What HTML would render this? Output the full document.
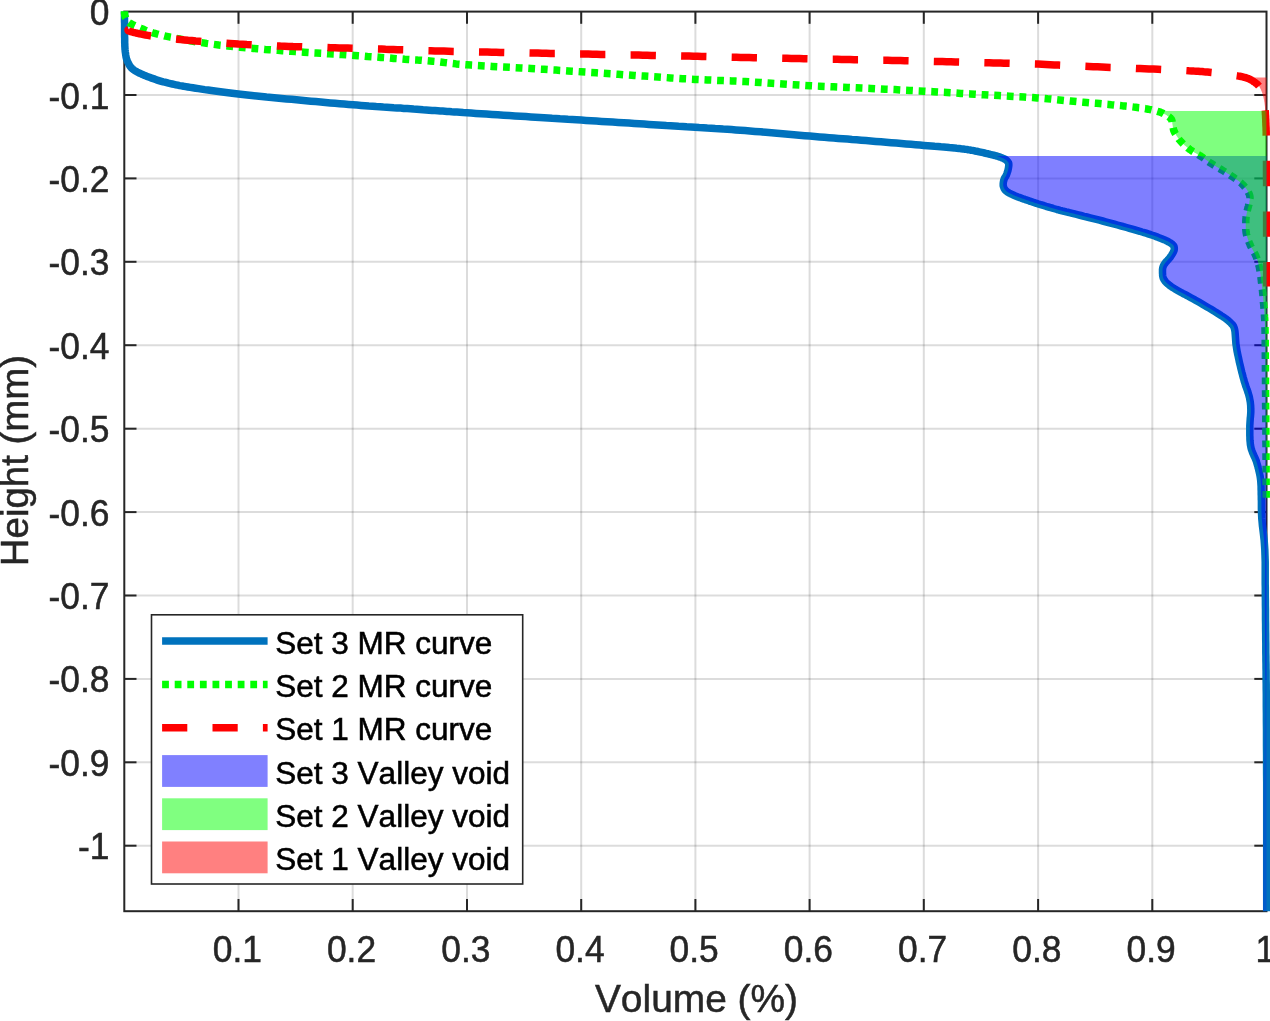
<!DOCTYPE html>
<html><head><meta charset="utf-8"><title>MR curves</title>
<style>html,body{margin:0;padding:0;background:#fff}svg{display:block}text{font-kerning:none}</style></head>
<body>
<svg width="1270" height="1021" viewBox="0 0 1270 1021">
<rect width="1270" height="1021" fill="#fff"/>
<g stroke="#262626" stroke-opacity="0.16" stroke-width="2">
<line x1="238.5" y1="11.6" x2="238.5" y2="911.2"/>
<line x1="352.7" y1="11.6" x2="352.7" y2="911.2"/>
<line x1="467.0" y1="11.6" x2="467.0" y2="911.2"/>
<line x1="581.2" y1="11.6" x2="581.2" y2="911.2"/>
<line x1="695.4" y1="11.6" x2="695.4" y2="911.2"/>
<line x1="809.6" y1="11.6" x2="809.6" y2="911.2"/>
<line x1="923.8" y1="11.6" x2="923.8" y2="911.2"/>
<line x1="1038.1" y1="11.6" x2="1038.1" y2="911.2"/>
<line x1="1152.3" y1="11.6" x2="1152.3" y2="911.2"/>
<line x1="124.3" y1="95.0" x2="1266.5" y2="95.0"/>
<line x1="124.3" y1="178.4" x2="1266.5" y2="178.4"/>
<line x1="124.3" y1="261.8" x2="1266.5" y2="261.8"/>
<line x1="124.3" y1="345.2" x2="1266.5" y2="345.2"/>
<line x1="124.3" y1="428.7" x2="1266.5" y2="428.7"/>
<line x1="124.3" y1="512.1" x2="1266.5" y2="512.1"/>
<line x1="124.3" y1="595.5" x2="1266.5" y2="595.5"/>
<line x1="124.3" y1="678.9" x2="1266.5" y2="678.9"/>
<line x1="124.3" y1="762.3" x2="1266.5" y2="762.3"/>
<line x1="124.3" y1="845.7" x2="1266.5" y2="845.7"/>
</g>
<g stroke="#262626" stroke-width="2" fill="none">
<rect x="124.3" y="11.6" width="1142.2" height="899.6"/>
<line x1="238.5" y1="11.6" x2="238.5" y2="23.799999999999997"/>
<line x1="238.5" y1="911.2" x2="238.5" y2="899.0"/>
<line x1="352.7" y1="11.6" x2="352.7" y2="23.799999999999997"/>
<line x1="352.7" y1="911.2" x2="352.7" y2="899.0"/>
<line x1="467.0" y1="11.6" x2="467.0" y2="23.799999999999997"/>
<line x1="467.0" y1="911.2" x2="467.0" y2="899.0"/>
<line x1="581.2" y1="11.6" x2="581.2" y2="23.799999999999997"/>
<line x1="581.2" y1="911.2" x2="581.2" y2="899.0"/>
<line x1="695.4" y1="11.6" x2="695.4" y2="23.799999999999997"/>
<line x1="695.4" y1="911.2" x2="695.4" y2="899.0"/>
<line x1="809.6" y1="11.6" x2="809.6" y2="23.799999999999997"/>
<line x1="809.6" y1="911.2" x2="809.6" y2="899.0"/>
<line x1="923.8" y1="11.6" x2="923.8" y2="23.799999999999997"/>
<line x1="923.8" y1="911.2" x2="923.8" y2="899.0"/>
<line x1="1038.1" y1="11.6" x2="1038.1" y2="23.799999999999997"/>
<line x1="1038.1" y1="911.2" x2="1038.1" y2="899.0"/>
<line x1="1152.3" y1="11.6" x2="1152.3" y2="23.799999999999997"/>
<line x1="1152.3" y1="911.2" x2="1152.3" y2="899.0"/>
<line x1="124.3" y1="95.0" x2="136.5" y2="95.0"/>
<line x1="1266.5" y1="95.0" x2="1254.3" y2="95.0"/>
<line x1="124.3" y1="178.4" x2="136.5" y2="178.4"/>
<line x1="1266.5" y1="178.4" x2="1254.3" y2="178.4"/>
<line x1="124.3" y1="261.8" x2="136.5" y2="261.8"/>
<line x1="1266.5" y1="261.8" x2="1254.3" y2="261.8"/>
<line x1="124.3" y1="345.2" x2="136.5" y2="345.2"/>
<line x1="1266.5" y1="345.2" x2="1254.3" y2="345.2"/>
<line x1="124.3" y1="428.7" x2="136.5" y2="428.7"/>
<line x1="1266.5" y1="428.7" x2="1254.3" y2="428.7"/>
<line x1="124.3" y1="512.1" x2="136.5" y2="512.1"/>
<line x1="1266.5" y1="512.1" x2="1254.3" y2="512.1"/>
<line x1="124.3" y1="595.5" x2="136.5" y2="595.5"/>
<line x1="1266.5" y1="595.5" x2="1254.3" y2="595.5"/>
<line x1="124.3" y1="678.9" x2="136.5" y2="678.9"/>
<line x1="1266.5" y1="678.9" x2="1254.3" y2="678.9"/>
<line x1="124.3" y1="762.3" x2="136.5" y2="762.3"/>
<line x1="1266.5" y1="762.3" x2="1254.3" y2="762.3"/>
<line x1="124.3" y1="845.7" x2="136.5" y2="845.7"/>
<line x1="1266.5" y1="845.7" x2="1254.3" y2="845.7"/>
</g>
<g fill="none" stroke-width="7.5" stroke-linejoin="round">
<path id="cb" stroke="#0072bd" d="M124.5,11.6 L124.5,12.5 L124.5,13.6 L124.5,15.0 L124.5,16.5 L124.5,18.1 L124.5,19.9 L124.5,21.6 L124.6,23.4 L124.6,25.2 L124.6,26.9 L124.6,28.5 L124.6,30.0 L124.6,31.4 L124.6,32.8 L124.6,34.1 L124.6,35.5 L124.6,36.8 L124.7,38.1 L124.7,39.3 L124.7,40.6 L124.7,41.8 L124.7,42.9 L124.8,44.0 L124.8,45.0 L124.8,46.0 L124.9,46.9 L124.9,47.7 L125.0,48.5 L125.0,49.2 L125.1,50.0 L125.2,50.6 L125.2,51.3 L125.3,52.0 L125.4,52.6 L125.5,53.3 L125.6,54.0 L125.7,54.7 L125.8,55.4 L125.9,56.0 L126.0,56.6 L126.1,57.3 L126.3,57.9 L126.4,58.5 L126.6,59.1 L126.8,59.8 L127.0,60.4 L127.3,61.0 L127.6,61.7 L127.9,62.4 L128.3,63.1 L128.6,63.7 L129.0,64.4 L129.4,65.2 L129.9,65.9 L130.3,66.6 L130.9,67.3 L131.5,68.0 L132.2,68.7 L133.0,69.3 L133.9,70.0 L134.9,70.7 L136.0,71.3 L137.2,72.0 L138.4,72.6 L139.8,73.3 L141.2,73.9 L142.6,74.6 L144.1,75.2 L145.6,75.8 L147.1,76.4 L148.7,77.0 L150.2,77.6 L151.7,78.2 L153.3,78.7 L154.9,79.2 L156.5,79.8 L158.1,80.3 L159.7,80.8 L161.4,81.3 L163.2,81.8 L164.9,82.2 L166.7,82.7 L168.5,83.2 L170.4,83.6 L172.3,84.0 L174.1,84.4 L175.9,84.8 L177.8,85.2 L179.7,85.6 L181.6,85.9 L183.6,86.3 L185.7,86.6 L187.9,87.0 L190.3,87.4 L192.9,87.8 L195.6,88.2 L198.5,88.6 L201.5,89.1 L204.7,89.6 L208.0,90.0 L211.4,90.5 L214.9,91.0 L218.6,91.5 L222.4,92.0 L226.2,92.5 L230.2,93.0 L234.2,93.5 L238.4,94.0 L242.7,94.5 L247.2,95.0 L251.9,95.5 L256.7,96.0 L261.6,96.5 L266.5,97.0 L271.6,97.4 L276.6,97.9 L281.6,98.4 L286.6,98.9 L291.6,99.3 L296.4,99.8 L301.2,100.3 L306.0,100.7 L310.9,101.2 L315.8,101.6 L320.7,102.0 L325.5,102.5 L330.3,102.9 L335.0,103.3 L339.7,103.7 L344.2,104.1 L348.6,104.5 L352.9,104.8 L357.0,105.1 L361.1,105.4 L365.0,105.7 L368.8,106.0 L372.5,106.2 L376.2,106.5 L379.8,106.7 L383.3,107.0 L386.8,107.2 L390.2,107.4 L393.7,107.7 L397.1,107.9 L400.5,108.1 L403.8,108.4 L407.2,108.6 L410.4,108.8 L413.6,109.1 L416.8,109.3 L419.9,109.5 L423.0,109.8 L426.1,110.0 L429.1,110.2 L432.1,110.4 L435.0,110.6 L437.8,110.8 L440.3,111.0 L442.7,111.1 L444.9,111.3 L447.1,111.5 L449.4,111.6 L451.7,111.8 L454.2,111.9 L456.9,112.1 L459.9,112.3 L463.2,112.6 L467.0,112.8 L471.2,113.1 L475.9,113.4 L481.0,113.7 L486.4,114.1 L492.0,114.4 L497.7,114.8 L503.6,115.2 L509.3,115.5 L515.0,115.9 L520.6,116.2 L525.9,116.6 L530.8,116.9 L535.4,117.2 L539.8,117.5 L544.0,117.7 L548.1,118.0 L552.1,118.3 L556.0,118.5 L560.0,118.8 L564.0,119.0 L568.0,119.3 L572.2,119.5 L576.6,119.8 L581.2,120.1 L586.0,120.4 L591.1,120.7 L596.4,121.1 L601.7,121.4 L607.2,121.8 L612.7,122.1 L618.2,122.4 L623.6,122.8 L629.0,123.1 L634.3,123.5 L639.3,123.8 L644.2,124.1 L648.9,124.4 L653.4,124.7 L657.8,125.0 L662.1,125.2 L666.3,125.5 L670.4,125.7 L674.5,126.0 L678.6,126.3 L682.6,126.5 L686.7,126.8 L690.8,127.0 L695.0,127.3 L699.1,127.6 L703.2,127.8 L707.2,128.1 L711.2,128.3 L715.1,128.6 L719.1,128.8 L723.2,129.1 L727.3,129.3 L731.5,129.6 L735.8,129.9 L740.3,130.2 L745.0,130.6 L749.9,131.0 L755.0,131.4 L760.4,131.8 L765.8,132.3 L771.4,132.8 L777.0,133.3 L782.7,133.8 L788.3,134.3 L793.9,134.7 L799.3,135.2 L804.7,135.7 L809.8,136.1 L814.8,136.5 L819.6,136.9 L824.4,137.3 L829.1,137.7 L833.7,138.0 L838.3,138.4 L842.9,138.8 L847.5,139.1 L852.0,139.5 L856.6,139.8 L861.3,140.2 L866.0,140.6 L870.8,141.0 L875.8,141.4 L880.9,141.8 L886.0,142.2 L891.2,142.7 L896.3,143.1 L901.3,143.5 L906.2,143.9 L911.0,144.3 L915.6,144.7 L919.9,145.1 L923.9,145.4 L927.7,145.7 L931.2,146.0 L934.6,146.3 L937.9,146.5 L940.9,146.8 L943.8,147.0 L946.6,147.2 L949.3,147.5 L951.8,147.7 L954.3,147.9 L956.6,148.2 L958.9,148.4 L961.1,148.7 L963.0,148.9 L964.9,149.2 L966.6,149.4 L968.2,149.7 L969.6,149.9 L971.1,150.2 L972.4,150.4 L973.8,150.7 L975.1,151.0 L976.4,151.2 L977.8,151.5 L979.2,151.8 L980.5,152.1 L981.9,152.4 L983.2,152.7 L984.5,153.0 L985.8,153.3 L987.0,153.6 L988.1,153.8 L989.2,154.1 L990.2,154.4 L991.2,154.6 L992.0,154.8 L992.7,155.0 L993.4,155.1 L993.9,155.3 L994.4,155.4 L994.8,155.5 L995.1,155.6 L995.4,155.6 L995.7,155.7 L996.0,155.8 L996.3,155.9 L996.6,156.0 L997.0,156.1 L997.4,156.2 L997.8,156.3 L998.2,156.5 L998.5,156.6 L998.9,156.7 L999.3,156.8 L999.6,156.9 L1000.0,157.1 L1000.4,157.2 L1000.7,157.3 L1001.1,157.5 L1001.4,157.6 L1001.7,157.7 L1002.1,157.9 L1002.4,158.0 L1002.8,158.2 L1003.1,158.3 L1003.4,158.5 L1003.7,158.6 L1004.1,158.8 L1004.4,158.9 L1004.7,159.1 L1004.9,159.2 L1005.2,159.4 L1005.5,159.6 L1005.7,159.7 L1005.9,159.9 L1006.1,160.1 L1006.4,160.2 L1006.6,160.4 L1006.8,160.6 L1006.9,160.7 L1007.1,160.9 L1007.3,161.1 L1007.4,161.3 L1007.6,161.5 L1007.7,161.7 L1007.9,161.9 L1008.0,162.1 L1008.2,162.3 L1008.3,162.4 L1008.4,162.6 L1008.5,162.8 L1008.6,163.1 L1008.7,163.3 L1008.7,163.6 L1008.8,163.9 L1008.8,164.2 L1008.8,164.6 L1008.8,165.0 L1008.8,165.4 L1008.8,165.8 L1008.7,166.3 L1008.6,166.8 L1008.6,167.3 L1008.5,167.7 L1008.4,168.2 L1008.3,168.7 L1008.2,169.2 L1008.1,169.7 L1008.0,170.2 L1007.9,170.7 L1007.7,171.2 L1007.6,171.7 L1007.4,172.2 L1007.2,172.7 L1007.1,173.2 L1006.9,173.7 L1006.7,174.1 L1006.5,174.6 L1006.4,175.0 L1006.2,175.4 L1006.0,175.8 L1005.9,176.1 L1005.7,176.4 L1005.5,176.6 L1005.4,176.9 L1005.2,177.1 L1005.0,177.4 L1004.9,177.6 L1004.7,177.9 L1004.6,178.1 L1004.4,178.4 L1004.3,178.7 L1004.2,179.0 L1004.1,179.4 L1004.0,179.7 L1003.9,180.0 L1003.8,180.4 L1003.7,180.8 L1003.6,181.1 L1003.5,181.5 L1003.4,181.9 L1003.4,182.2 L1003.3,182.6 L1003.3,182.9 L1003.3,183.2 L1003.2,183.6 L1003.2,183.9 L1003.2,184.2 L1003.2,184.5 L1003.2,184.8 L1003.2,185.1 L1003.2,185.4 L1003.2,185.7 L1003.3,186.0 L1003.4,186.4 L1003.5,186.7 L1003.6,187.0 L1003.7,187.4 L1003.9,187.7 L1004.0,188.1 L1004.2,188.5 L1004.4,188.8 L1004.6,189.2 L1004.9,189.6 L1005.1,189.9 L1005.4,190.3 L1005.8,190.6 L1006.2,191.0 L1006.6,191.4 L1007.1,191.7 L1007.6,192.1 L1008.2,192.4 L1008.8,192.8 L1009.4,193.1 L1010.1,193.4 L1010.7,193.8 L1011.4,194.1 L1012.2,194.5 L1012.9,194.8 L1013.7,195.2 L1014.5,195.6 L1015.3,195.9 L1016.2,196.3 L1017.1,196.6 L1018.0,197.0 L1019.0,197.3 L1020.0,197.7 L1021.0,198.0 L1022.0,198.4 L1023.0,198.8 L1024.0,199.1 L1025.1,199.5 L1026.2,199.9 L1027.2,200.2 L1028.3,200.6 L1029.4,201.0 L1030.4,201.4 L1031.6,201.7 L1032.7,202.1 L1033.9,202.5 L1035.1,202.9 L1036.4,203.3 L1037.8,203.8 L1039.2,204.2 L1040.7,204.7 L1042.4,205.2 L1044.2,205.7 L1046.0,206.3 L1047.9,206.8 L1049.8,207.4 L1051.7,207.9 L1053.5,208.5 L1055.3,209.0 L1057.0,209.5 L1058.6,209.9 L1060.0,210.3 L1061.2,210.6 L1062.2,210.9 L1063.0,211.1 L1063.6,211.3 L1064.2,211.4 L1064.8,211.5 L1065.4,211.7 L1066.2,211.9 L1067.1,212.1 L1068.2,212.3 L1069.6,212.7 L1071.3,213.1 L1073.4,213.6 L1075.7,214.2 L1078.3,214.8 L1081.0,215.5 L1084.0,216.3 L1087.0,217.0 L1090.1,217.8 L1093.3,218.6 L1096.5,219.4 L1099.6,220.2 L1102.7,221.0 L1105.6,221.8 L1108.5,222.6 L1111.5,223.4 L1114.5,224.2 L1117.5,225.0 L1120.6,225.8 L1123.6,226.7 L1126.6,227.5 L1129.5,228.3 L1132.3,229.1 L1135.0,229.9 L1137.5,230.6 L1139.9,231.3 L1142.1,232.0 L1144.2,232.6 L1146.2,233.2 L1148.1,233.8 L1149.9,234.4 L1151.6,235.0 L1153.2,235.5 L1154.8,236.1 L1156.2,236.6 L1157.7,237.1 L1159.1,237.7 L1160.4,238.2 L1161.7,238.7 L1162.9,239.2 L1164.1,239.7 L1165.2,240.2 L1166.2,240.7 L1167.2,241.1 L1168.1,241.6 L1169.0,242.1 L1169.8,242.5 L1170.5,243.0 L1171.2,243.4 L1171.8,243.9 L1172.3,244.3 L1172.8,244.8 L1173.2,245.2 L1173.5,245.6 L1173.8,246.0 L1174.0,246.5 L1174.1,246.9 L1174.2,247.3 L1174.3,247.7 L1174.3,248.2 L1174.3,248.7 L1174.3,249.2 L1174.2,249.7 L1174.1,250.3 L1173.9,250.9 L1173.7,251.4 L1173.4,252.0 L1173.1,252.6 L1172.7,253.3 L1172.4,253.9 L1172.0,254.5 L1171.6,255.2 L1171.1,255.8 L1170.7,256.5 L1170.2,257.2 L1169.7,257.9 L1169.1,258.6 L1168.4,259.3 L1167.8,260.1 L1167.1,260.8 L1166.4,261.5 L1165.8,262.3 L1165.2,263.0 L1164.7,263.7 L1164.2,264.4 L1163.8,265.1 L1163.5,265.8 L1163.2,266.4 L1163.0,267.0 L1162.8,267.6 L1162.7,268.2 L1162.6,268.8 L1162.5,269.4 L1162.5,270.0 L1162.5,270.6 L1162.5,271.3 L1162.5,271.9 L1162.5,272.5 L1162.5,273.1 L1162.6,273.8 L1162.6,274.4 L1162.6,275.1 L1162.7,275.8 L1162.8,276.4 L1163.0,277.1 L1163.1,277.7 L1163.4,278.4 L1163.7,279.1 L1164.1,279.7 L1164.5,280.4 L1165.0,281.0 L1165.5,281.7 L1166.1,282.3 L1166.6,282.9 L1167.3,283.5 L1168.0,284.1 L1168.8,284.7 L1169.6,285.4 L1170.6,286.1 L1171.6,286.8 L1172.8,287.6 L1174.1,288.4 L1175.5,289.3 L1177.1,290.2 L1178.9,291.2 L1180.7,292.2 L1182.7,293.3 L1184.7,294.3 L1186.7,295.4 L1188.8,296.5 L1190.9,297.7 L1192.9,298.8 L1195.0,299.9 L1196.9,301.0 L1198.8,302.1 L1200.9,303.3 L1202.9,304.5 L1205.0,305.7 L1207.1,306.9 L1209.1,308.1 L1211.1,309.3 L1213.1,310.5 L1214.9,311.6 L1216.7,312.7 L1218.3,313.8 L1219.8,314.7 L1221.1,315.6 L1222.4,316.4 L1223.5,317.1 L1224.5,317.8 L1225.5,318.5 L1226.3,319.1 L1227.1,319.7 L1227.9,320.3 L1228.6,320.9 L1229.2,321.5 L1229.9,322.1 L1230.5,322.7 L1231.1,323.3 L1231.6,323.8 L1232.0,324.3 L1232.5,324.7 L1232.8,325.1 L1233.1,325.6 L1233.4,326.0 L1233.7,326.6 L1233.9,327.1 L1234.1,327.8 L1234.4,328.5 L1234.6,329.4 L1234.8,330.4 L1235.0,331.5 L1235.1,332.7 L1235.2,333.9 L1235.3,335.3 L1235.4,336.6 L1235.5,338.0 L1235.6,339.5 L1235.7,340.9 L1235.8,342.3 L1235.9,343.7 L1236.1,345.0 L1236.3,346.3 L1236.5,347.6 L1236.7,348.8 L1236.9,350.1 L1237.1,351.3 L1237.4,352.6 L1237.6,353.9 L1237.9,355.2 L1238.2,356.5 L1238.5,357.9 L1238.8,359.3 L1239.1,360.7 L1239.4,362.2 L1239.8,363.8 L1240.2,365.4 L1240.6,367.1 L1241.0,368.8 L1241.4,370.5 L1241.8,372.2 L1242.3,373.9 L1242.7,375.5 L1243.1,377.2 L1243.6,378.8 L1244.0,380.3 L1244.4,381.8 L1244.9,383.2 L1245.4,384.7 L1245.8,386.1 L1246.3,387.4 L1246.8,388.8 L1247.3,390.1 L1247.7,391.5 L1248.1,392.7 L1248.5,394.0 L1248.9,395.3 L1249.2,396.5 L1249.5,397.7 L1249.7,398.8 L1249.9,399.9 L1250.1,400.9 L1250.3,401.9 L1250.4,403.0 L1250.5,404.0 L1250.6,405.0 L1250.7,406.1 L1250.7,407.2 L1250.8,408.4 L1250.8,409.6 L1250.8,410.9 L1250.8,412.3 L1250.7,413.7 L1250.6,415.1 L1250.5,416.6 L1250.3,418.1 L1250.2,419.6 L1250.1,421.1 L1250.0,422.6 L1249.9,424.2 L1249.8,425.7 L1249.8,427.3 L1249.8,428.9 L1249.8,430.5 L1249.8,432.1 L1249.8,433.8 L1249.8,435.5 L1249.9,437.2 L1249.9,438.9 L1250.0,440.5 L1250.2,442.2 L1250.3,443.7 L1250.5,445.3 L1250.8,446.8 L1251.1,448.2 L1251.5,449.6 L1252.0,451.0 L1252.5,452.3 L1253.0,453.6 L1253.6,454.8 L1254.1,456.1 L1254.7,457.3 L1255.3,458.6 L1255.8,459.9 L1256.3,461.2 L1256.7,462.5 L1257.1,463.8 L1257.5,465.2 L1257.9,466.5 L1258.2,467.9 L1258.6,469.2 L1258.9,470.6 L1259.2,471.9 L1259.5,473.3 L1259.8,474.7 L1260.1,476.1 L1260.3,477.5 L1260.5,479.0 L1260.7,480.5 L1260.8,481.9 L1260.9,483.4 L1261.0,484.9 L1261.1,486.5 L1261.1,488.0 L1261.1,489.6 L1261.2,491.1 L1261.2,492.7 L1261.2,494.3 L1261.3,496.0 L1261.3,497.6 L1261.3,499.2 L1261.4,500.9 L1261.4,502.5 L1261.4,504.1 L1261.4,505.8 L1261.4,507.4 L1261.4,509.2 L1261.5,510.9 L1261.5,512.8 L1261.6,514.7 L1261.7,516.7 L1261.8,518.8 L1262.0,521.0 L1262.2,523.2 L1262.4,525.5 L1262.7,527.9 L1263.0,530.3 L1263.3,532.8 L1263.6,535.3 L1263.9,538.0 L1264.2,540.7 L1264.4,543.5 L1264.6,546.4 L1264.8,549.4 L1264.9,552.5 L1265.0,555.6 L1265.1,558.8 L1265.2,562.1 L1265.2,565.5 L1265.2,569.0 L1265.2,572.5 L1265.2,576.2 L1265.2,579.9 L1265.2,583.8 L1265.3,587.7 L1265.3,591.8 L1265.3,596.0 L1265.4,600.4 L1265.4,605.0 L1265.5,609.7 L1265.5,614.5 L1265.5,619.4 L1265.6,624.3 L1265.6,629.2 L1265.7,634.1 L1265.7,638.9 L1265.8,643.6 L1265.8,648.2 L1265.8,652.5 L1265.9,656.5 L1265.9,660.3 L1266.0,664.0 L1266.0,667.7 L1266.1,671.4 L1266.1,675.2 L1266.1,679.3 L1266.2,683.8 L1266.2,688.6 L1266.3,694.0 L1266.3,700.0 L1266.3,706.6 L1266.4,713.7 L1266.4,721.3 L1266.5,729.3 L1266.5,737.7 L1266.5,746.3 L1266.6,755.1 L1266.6,764.1 L1266.6,773.1 L1266.7,782.1 L1266.7,791.1 L1266.7,800.0 L1266.7,809.2 L1266.7,819.2 L1266.7,829.6 L1266.7,840.4 L1266.7,851.2 L1266.7,861.9 L1266.7,872.2 L1266.7,882.0 L1266.7,891.0 L1266.7,899.0 L1266.7,905.8 L1266.7,911.2"/>
<path id="cg" stroke="#00ff00" stroke-dasharray="6.8 5.815" d="M124.5,11.2 L124.5,11.4 L124.5,11.7 L124.5,12.0 L124.5,12.3 L124.5,12.7 L124.5,13.1 L124.6,13.5 L124.6,13.9 L124.6,14.3 L124.7,14.8 L124.7,15.1 L124.8,15.5 L124.9,15.8 L125.0,16.2 L125.1,16.5 L125.2,16.8 L125.3,17.2 L125.4,17.5 L125.6,17.8 L125.7,18.1 L125.9,18.5 L126.1,18.8 L126.3,19.2 L126.6,19.5 L126.8,19.8 L127.0,20.2 L127.2,20.5 L127.3,20.8 L127.5,21.1 L127.7,21.4 L128.0,21.7 L128.4,22.1 L128.9,22.5 L129.5,22.9 L130.3,23.4 L131.3,23.9 L132.5,24.5 L133.8,25.2 L135.3,25.9 L137.0,26.6 L138.8,27.4 L140.6,28.2 L142.6,29.0 L144.6,29.9 L146.6,30.7 L148.7,31.4 L150.7,32.1 L152.8,32.8 L154.9,33.4 L157.0,34.0 L159.1,34.6 L161.3,35.1 L163.5,35.6 L165.8,36.2 L168.1,36.7 L170.5,37.2 L172.9,37.6 L175.4,38.1 L177.9,38.6 L180.5,39.1 L183.2,39.6 L185.9,40.1 L188.7,40.6 L191.6,41.1 L194.5,41.5 L197.5,42.0 L200.5,42.5 L203.5,42.9 L206.5,43.4 L209.6,43.8 L212.7,44.2 L215.7,44.6 L218.7,45.0 L221.7,45.3 L224.7,45.7 L227.6,46.0 L230.6,46.3 L233.6,46.6 L236.7,46.9 L239.9,47.2 L243.1,47.5 L246.4,47.8 L249.9,48.1 L253.5,48.4 L257.3,48.7 L261.2,49.0 L265.2,49.4 L269.4,49.7 L273.6,50.0 L277.9,50.3 L282.3,50.7 L286.6,51.0 L291.0,51.3 L295.4,51.6 L299.7,51.9 L303.9,52.2 L308.1,52.5 L312.3,52.8 L316.5,53.0 L320.7,53.3 L324.9,53.5 L329.1,53.8 L333.3,54.1 L337.5,54.3 L341.7,54.6 L345.9,54.8 L350.1,55.1 L354.3,55.4 L358.6,55.7 L363.0,56.0 L367.4,56.4 L371.9,56.7 L376.4,57.0 L380.9,57.4 L385.3,57.7 L389.6,58.0 L393.7,58.4 L397.6,58.7 L401.3,58.9 L404.7,59.2 L407.8,59.4 L410.6,59.6 L413.1,59.8 L415.4,59.9 L417.5,60.1 L419.5,60.2 L421.5,60.3 L423.5,60.5 L425.5,60.6 L427.6,60.8 L429.9,61.0 L432.4,61.2 L434.9,61.4 L437.4,61.7 L439.9,62.0 L442.3,62.3 L444.8,62.6 L447.4,62.9 L450.2,63.2 L453.0,63.5 L456.1,63.9 L459.5,64.2 L463.1,64.5 L467.0,64.8 L471.3,65.1 L476.1,65.4 L481.2,65.7 L486.6,66.0 L492.2,66.4 L497.9,66.7 L503.7,67.0 L509.4,67.3 L515.1,67.6 L520.6,67.9 L525.9,68.2 L530.8,68.5 L535.4,68.8 L539.8,69.1 L544.0,69.3 L548.1,69.6 L552.1,69.9 L556.0,70.1 L560.0,70.4 L564.0,70.6 L568.0,70.9 L572.2,71.2 L576.6,71.5 L581.2,71.8 L586.0,72.1 L591.1,72.5 L596.4,72.8 L601.7,73.2 L607.2,73.6 L612.7,73.9 L618.2,74.3 L623.6,74.7 L629.0,75.1 L634.3,75.4 L639.3,75.8 L644.2,76.1 L648.9,76.4 L653.4,76.7 L657.8,77.0 L662.1,77.3 L666.3,77.6 L670.4,77.9 L674.5,78.2 L678.6,78.4 L682.6,78.7 L686.7,78.9 L690.8,79.2 L695.0,79.4 L699.1,79.6 L703.2,79.8 L707.2,80.0 L711.2,80.1 L715.1,80.3 L719.1,80.5 L723.2,80.6 L727.3,80.8 L731.5,80.9 L735.8,81.1 L740.3,81.4 L745.0,81.6 L749.9,81.9 L755.0,82.2 L760.4,82.5 L765.8,82.9 L771.4,83.3 L777.0,83.6 L782.7,84.0 L788.3,84.4 L793.9,84.7 L799.3,85.1 L804.7,85.4 L809.8,85.7 L814.8,86.0 L819.6,86.2 L824.4,86.4 L829.1,86.6 L833.7,86.8 L838.3,87.0 L842.9,87.2 L847.5,87.4 L852.0,87.6 L856.6,87.8 L861.3,88.0 L866.0,88.2 L870.8,88.4 L875.6,88.7 L880.4,88.9 L885.3,89.2 L890.1,89.4 L895.0,89.6 L899.9,89.9 L904.7,90.2 L909.6,90.4 L914.4,90.7 L919.2,90.9 L923.9,91.2 L928.6,91.5 L933.3,91.7 L937.9,92.0 L942.5,92.3 L947.1,92.5 L951.7,92.8 L956.2,93.1 L960.8,93.4 L965.4,93.7 L970.1,93.9 L974.7,94.2 L979.4,94.5 L984.2,94.8 L989.1,95.1 L994.1,95.3 L999.2,95.6 L1004.3,95.9 L1009.4,96.2 L1014.4,96.5 L1019.3,96.8 L1024.0,97.0 L1028.6,97.3 L1032.9,97.6 L1037.0,97.9 L1040.8,98.2 L1044.3,98.5 L1047.6,98.8 L1050.7,99.0 L1053.6,99.3 L1056.5,99.6 L1059.3,99.9 L1062.0,100.2 L1064.8,100.5 L1067.6,100.7 L1070.5,101.0 L1073.5,101.3 L1076.6,101.6 L1079.9,101.9 L1083.2,102.2 L1086.5,102.5 L1089.8,102.8 L1093.2,103.1 L1096.4,103.3 L1099.6,103.6 L1102.8,103.9 L1105.8,104.2 L1108.6,104.4 L1111.3,104.7 L1113.8,104.9 L1116.3,105.2 L1118.6,105.4 L1120.9,105.6 L1123.0,105.9 L1125.1,106.1 L1127.1,106.3 L1129.0,106.5 L1130.8,106.7 L1132.5,106.9 L1134.2,107.1 L1135.8,107.3 L1137.3,107.5 L1138.7,107.7 L1139.9,107.8 L1141.1,108.0 L1142.1,108.2 L1143.2,108.3 L1144.1,108.5 L1145.1,108.6 L1146.0,108.8 L1147.0,109.0 L1148.0,109.2 L1149.0,109.4 L1150.1,109.6 L1151.1,109.8 L1152.2,110.1 L1153.3,110.3 L1154.3,110.5 L1155.4,110.8 L1156.4,111.0 L1157.4,111.3 L1158.4,111.6 L1159.4,111.9 L1160.4,112.2 L1161.3,112.6 L1162.2,113.0 L1163.1,113.4 L1164.0,113.9 L1165.0,114.3 L1165.8,114.8 L1166.7,115.3 L1167.5,115.9 L1168.3,116.4 L1169.0,116.9 L1169.7,117.5 L1170.3,118.0 L1170.8,118.6 L1171.2,119.2 L1171.6,119.7 L1171.8,120.3 L1172.0,120.9 L1172.1,121.5 L1172.2,122.2 L1172.3,122.8 L1172.3,123.4 L1172.4,124.0 L1172.5,124.6 L1172.6,125.2 L1172.7,125.8 L1172.8,126.4 L1173.0,126.9 L1173.1,127.4 L1173.2,127.9 L1173.3,128.4 L1173.4,129.0 L1173.5,129.5 L1173.6,130.0 L1173.8,130.6 L1174.0,131.1 L1174.3,131.8 L1174.6,132.4 L1175.0,133.1 L1175.4,133.8 L1175.9,134.6 L1176.3,135.4 L1176.9,136.2 L1177.4,137.1 L1178.0,137.9 L1178.6,138.7 L1179.2,139.6 L1179.9,140.4 L1180.5,141.1 L1181.2,141.9 L1181.9,142.6 L1182.6,143.3 L1183.3,144.0 L1184.1,144.7 L1184.8,145.4 L1185.6,146.1 L1186.4,146.8 L1187.2,147.4 L1188.0,148.1 L1188.9,148.7 L1189.7,149.4 L1190.6,150.0 L1191.5,150.6 L1192.4,151.2 L1193.4,151.8 L1194.3,152.4 L1195.3,153.0 L1196.3,153.6 L1197.3,154.2 L1198.3,154.7 L1199.2,155.3 L1200.2,155.9 L1201.1,156.4 L1202.0,157.0 L1202.8,157.6 L1203.6,158.1 L1204.3,158.6 L1205.0,159.1 L1205.6,159.6 L1206.3,160.1 L1207.0,160.6 L1207.7,161.1 L1208.5,161.7 L1209.4,162.3 L1210.3,162.9 L1211.4,163.6 L1212.6,164.3 L1213.9,165.2 L1215.3,166.0 L1216.8,166.9 L1218.3,167.8 L1219.9,168.7 L1221.5,169.7 L1223.0,170.6 L1224.6,171.6 L1226.1,172.5 L1227.5,173.4 L1228.9,174.3 L1230.2,175.2 L1231.5,176.0 L1232.8,176.9 L1234.0,177.7 L1235.2,178.6 L1236.4,179.4 L1237.6,180.3 L1238.7,181.1 L1239.7,182.0 L1240.8,182.8 L1241.7,183.7 L1242.6,184.5 L1243.4,185.3 L1244.2,186.2 L1244.9,187.1 L1245.6,187.9 L1246.3,188.8 L1246.9,189.7 L1247.4,190.5 L1247.9,191.4 L1248.3,192.2 L1248.7,193.0 L1249.1,193.8 L1249.4,194.5 L1249.6,195.2 L1249.8,195.9 L1249.9,196.5 L1250.0,197.1 L1250.0,197.6 L1250.0,198.2 L1249.9,198.7 L1249.9,199.3 L1249.7,199.9 L1249.6,200.6 L1249.5,201.3 L1249.4,202.0 L1249.3,202.8 L1249.1,203.7 L1248.9,204.6 L1248.6,205.5 L1248.4,206.5 L1248.1,207.5 L1247.8,208.4 L1247.6,209.4 L1247.3,210.4 L1247.1,211.3 L1246.9,212.2 L1246.7,213.1 L1246.6,213.9 L1246.4,214.7 L1246.3,215.5 L1246.2,216.2 L1246.1,216.9 L1246.1,217.6 L1246.0,218.3 L1245.9,219.1 L1245.9,219.8 L1245.8,220.6 L1245.8,221.4 L1245.8,222.2 L1245.8,223.1 L1245.8,224.0 L1245.7,224.9 L1245.7,225.8 L1245.7,226.8 L1245.7,227.7 L1245.8,228.7 L1245.8,229.7 L1245.9,230.7 L1246.0,231.6 L1246.1,232.6 L1246.3,233.6 L1246.5,234.6 L1246.8,235.6 L1247.0,236.6 L1247.3,237.6 L1247.7,238.6 L1248.0,239.6 L1248.4,240.6 L1248.8,241.6 L1249.2,242.6 L1249.6,243.6 L1250.0,244.5 L1250.4,245.5 L1250.8,246.4 L1251.3,247.4 L1251.8,248.3 L1252.3,249.2 L1252.8,250.1 L1253.3,251.0 L1253.8,251.9 L1254.3,252.8 L1254.8,253.7 L1255.3,254.6 L1255.7,255.6 L1256.1,256.5 L1256.5,257.4 L1256.8,258.3 L1257.1,259.3 L1257.5,260.2 L1257.7,261.1 L1258.0,262.0 L1258.3,262.9 L1258.5,263.9 L1258.8,264.9 L1259.0,265.9 L1259.3,266.9 L1259.5,268.0 L1259.7,269.1 L1259.9,270.3 L1260.1,271.5 L1260.3,272.7 L1260.5,273.9 L1260.7,275.2 L1260.8,276.4 L1261.0,277.7 L1261.1,279.0 L1261.3,280.3 L1261.4,281.7 L1261.6,283.0 L1261.8,284.3 L1261.9,285.6 L1262.1,286.8 L1262.2,288.1 L1262.3,289.3 L1262.5,290.6 L1262.6,291.9 L1262.7,293.3 L1262.9,294.8 L1263.0,296.4 L1263.2,298.1 L1263.3,300.0 L1263.4,301.9 L1263.6,303.7 L1263.8,305.5 L1263.9,307.4 L1264.1,309.3 L1264.2,311.4 L1264.4,313.7 L1264.5,316.2 L1264.7,318.9 L1264.8,322.1 L1264.9,325.6 L1265.0,329.5 L1265.1,334.0 L1265.2,339.1 L1265.2,344.7 L1265.3,350.7 L1265.3,357.0 L1265.4,363.5 L1265.4,370.0 L1265.5,376.5 L1265.5,382.9 L1265.5,389.0 L1265.6,394.7 L1265.6,400.0 L1265.6,404.9 L1265.7,409.5 L1265.7,414.0 L1265.8,418.2 L1265.8,422.3 L1265.8,426.4 L1265.9,430.3 L1265.9,434.2 L1265.9,438.1 L1265.9,442.0 L1266.0,445.9 L1266.0,450.0 L1266.0,454.3 L1266.0,458.8 L1266.1,463.4 L1266.1,468.2 L1266.1,472.9 L1266.1,477.5 L1266.1,482.0 L1266.2,486.2 L1266.2,490.1 L1266.2,493.5 L1266.2,496.4 L1266.2,498.8"/>
<path id="cr" stroke="#ff0000" stroke-dasharray="25.3 25.25" d="M128.8,29.2 L128.8,29.3 L128.7,29.4 L128.5,29.5 L128.3,29.7 L128.2,29.8 L128.0,30.0 L128.0,30.1 L128.0,30.3 L128.2,30.6 L128.5,30.8 L129.0,31.0 L129.8,31.3 L130.8,31.6 L131.9,31.9 L133.1,32.3 L134.5,32.6 L136.0,33.0 L137.7,33.4 L139.5,33.8 L141.4,34.2 L143.4,34.6 L145.6,35.0 L147.8,35.4 L150.2,35.8 L152.7,36.2 L155.3,36.6 L158.1,36.9 L161.0,37.3 L164.1,37.7 L167.2,38.1 L170.5,38.5 L173.8,38.9 L177.3,39.2 L180.8,39.6 L184.4,39.9 L188.0,40.3 L191.8,40.6 L195.7,41.0 L199.7,41.3 L203.9,41.7 L208.1,42.0 L212.4,42.3 L216.8,42.7 L221.1,43.0 L225.5,43.3 L229.9,43.6 L234.2,43.8 L238.4,44.1 L242.6,44.3 L246.8,44.6 L251.0,44.8 L255.2,45.0 L259.4,45.2 L263.6,45.4 L267.8,45.6 L272.0,45.7 L276.2,45.9 L280.4,46.1 L284.6,46.2 L288.8,46.4 L293.0,46.6 L297.2,46.7 L301.4,46.8 L305.6,47.0 L309.8,47.1 L314.0,47.2 L318.2,47.3 L322.4,47.4 L326.6,47.5 L330.8,47.7 L335.0,47.8 L339.2,47.9 L343.4,48.0 L347.7,48.1 L351.9,48.3 L356.2,48.4 L360.5,48.5 L364.7,48.6 L369.0,48.8 L373.2,48.9 L377.4,49.0 L381.5,49.1 L385.6,49.3 L389.6,49.4 L393.5,49.5 L397.3,49.7 L401.0,49.8 L404.7,49.9 L408.3,50.0 L411.9,50.2 L415.5,50.3 L419.2,50.4 L423.0,50.5 L426.8,50.7 L430.8,50.8 L435.0,50.9 L439.3,51.0 L443.9,51.1 L448.5,51.2 L453.3,51.4 L458.1,51.5 L463.0,51.6 L467.9,51.7 L472.8,51.8 L477.7,51.9 L482.5,52.0 L487.2,52.1 L491.7,52.2 L496.1,52.3 L500.5,52.4 L504.7,52.5 L509.0,52.6 L513.1,52.6 L517.3,52.7 L521.4,52.8 L525.5,52.9 L529.6,53.0 L533.8,53.0 L537.9,53.1 L542.1,53.2 L546.3,53.3 L550.5,53.4 L554.7,53.5 L558.9,53.5 L563.1,53.6 L567.3,53.7 L571.5,53.8 L575.7,53.9 L579.9,54.0 L584.1,54.0 L588.3,54.1 L592.5,54.2 L596.7,54.3 L600.9,54.4 L605.1,54.5 L609.3,54.5 L613.5,54.6 L617.7,54.7 L621.9,54.8 L626.1,54.9 L630.3,55.0 L634.5,55.0 L638.7,55.1 L642.9,55.2 L647.1,55.3 L651.3,55.4 L655.5,55.4 L659.7,55.5 L663.8,55.6 L668.0,55.7 L672.2,55.8 L676.4,55.8 L680.6,55.9 L684.8,56.0 L689.1,56.1 L693.3,56.2 L697.6,56.3 L701.9,56.4 L706.2,56.5 L710.5,56.6 L714.8,56.7 L719.1,56.9 L723.5,57.0 L727.8,57.1 L732.1,57.2 L736.4,57.3 L740.7,57.4 L745.0,57.5 L749.2,57.6 L753.5,57.7 L757.7,57.8 L761.9,57.9 L766.1,57.9 L770.3,58.0 L774.5,58.1 L778.6,58.2 L782.8,58.3 L787.0,58.3 L791.2,58.4 L795.4,58.5 L799.6,58.6 L803.8,58.7 L808.0,58.8 L812.2,58.8 L816.4,58.9 L820.6,59.0 L824.8,59.1 L829.0,59.2 L833.2,59.2 L837.4,59.3 L841.6,59.4 L845.8,59.5 L850.0,59.6 L854.2,59.7 L858.4,59.7 L862.6,59.8 L866.8,59.9 L871.0,60.0 L875.2,60.1 L879.4,60.2 L883.6,60.2 L887.8,60.3 L892.0,60.4 L896.2,60.5 L900.4,60.6 L904.6,60.7 L908.8,60.8 L913.0,60.9 L917.2,61.0 L921.4,61.1 L925.6,61.2 L929.8,61.3 L934.0,61.4 L938.2,61.5 L942.4,61.6 L946.6,61.7 L950.8,61.8 L955.2,61.9 L959.5,62.0 L963.9,62.1 L968.3,62.2 L972.6,62.4 L976.9,62.5 L981.2,62.6 L985.3,62.7 L989.4,62.8 L993.3,62.9 L997.0,63.0 L1000.5,63.1 L1003.8,63.2 L1006.9,63.2 L1009.9,63.3 L1012.8,63.4 L1015.6,63.4 L1018.4,63.5 L1021.3,63.6 L1024.3,63.7 L1027.4,63.8 L1030.7,63.9 L1034.2,64.0 L1037.9,64.1 L1041.9,64.3 L1045.9,64.5 L1050.1,64.7 L1054.3,64.9 L1058.6,65.1 L1063.0,65.3 L1067.4,65.5 L1071.8,65.7 L1076.2,65.9 L1080.5,66.1 L1084.8,66.3 L1089.0,66.5 L1093.3,66.7 L1097.5,66.8 L1101.8,67.0 L1106.1,67.2 L1110.3,67.4 L1114.6,67.5 L1118.9,67.7 L1123.1,67.9 L1127.3,68.0 L1131.6,68.2 L1135.8,68.4 L1140.1,68.6 L1144.5,68.8 L1149.0,69.0 L1153.5,69.1 L1158.0,69.3 L1162.4,69.5 L1166.8,69.7 L1171.1,69.9 L1175.1,70.1 L1179.0,70.2 L1182.6,70.4 L1185.9,70.6 L1188.9,70.8 L1191.6,70.9 L1194.0,71.1 L1196.3,71.2 L1198.3,71.3 L1200.2,71.5 L1202.1,71.6 L1203.9,71.8 L1205.7,71.9 L1207.5,72.1 L1209.4,72.3 L1211.4,72.5 L1213.5,72.7 L1215.7,73.0 L1217.9,73.2 L1220.2,73.5 L1222.4,73.8 L1224.6,74.1 L1226.7,74.4 L1228.8,74.6 L1230.8,74.9 L1232.7,75.2 L1234.4,75.5 L1236.0,75.7 L1237.4,75.9 L1238.7,76.1 L1239.8,76.3 L1240.9,76.5 L1241.8,76.7 L1242.7,76.9 L1243.5,77.1 L1244.3,77.3 L1245.0,77.5 L1245.8,77.7 L1246.5,77.9 L1247.3,78.2 L1248.1,78.5 L1248.8,78.8 L1249.5,79.1 L1250.2,79.5 L1250.9,79.8 L1251.5,80.2 L1252.1,80.5 L1252.7,80.9 L1253.3,81.3 L1253.8,81.7 L1254.4,82.0 L1254.9,82.4 L1255.4,82.8 L1255.9,83.1 L1256.3,83.5 L1256.7,83.8 L1257.1,84.1 L1257.5,84.5 L1257.9,84.9 L1258.2,85.3 L1258.6,85.7 L1258.9,86.1 L1259.3,86.6 L1259.6,87.1 L1259.9,87.7 L1260.2,88.3 L1260.6,88.9 L1260.9,89.5 L1261.2,90.2 L1261.4,90.9 L1261.7,91.6 L1262.0,92.3 L1262.2,93.1 L1262.5,93.8 L1262.7,94.6 L1262.9,95.3 L1263.1,96.0 L1263.3,96.8 L1263.5,97.5 L1263.6,98.3 L1263.8,99.1 L1264.0,99.9 L1264.1,100.7 L1264.2,101.5 L1264.4,102.3 L1264.5,103.1 L1264.6,103.9 L1264.7,104.7 L1264.8,105.5 L1264.9,106.3 L1265.0,107.0 L1265.0,107.8 L1265.1,108.5 L1265.2,109.3 L1265.2,110.1 L1265.3,110.9 L1265.3,111.8 L1265.4,112.8 L1265.4,113.9 L1265.5,115.0 L1265.6,116.2 L1265.6,117.5 L1265.7,118.8 L1265.8,120.2 L1265.8,121.7 L1265.9,123.2 L1265.9,124.7 L1266.0,126.4 L1266.1,128.0 L1266.1,129.8 L1266.2,131.6 L1266.2,133.4 L1266.2,135.2 L1266.3,137.0 L1266.3,138.7 L1266.3,140.4 L1266.4,142.2 L1266.4,144.1 L1266.4,146.1 L1266.4,148.4 L1266.4,150.8 L1266.5,153.5 L1266.5,156.6 L1266.5,160.0 L1266.5,163.8 L1266.5,168.0 L1266.5,172.5 L1266.5,177.3 L1266.6,182.3 L1266.6,187.5 L1266.6,192.8 L1266.6,198.3 L1266.6,203.8 L1266.6,209.2 L1266.6,214.7 L1266.6,220.0 L1266.6,225.5 L1266.6,231.5 L1266.6,237.7 L1266.6,244.1 L1266.6,250.6 L1266.7,257.0 L1266.7,263.2 L1266.7,269.0 L1266.7,274.4 L1266.7,279.2 L1266.7,283.3 L1266.7,286.5"/>
</g>
<path d="M997.0,156.0 L997.0,156.1 L997.4,156.2 L997.8,156.3 L998.2,156.5 L998.5,156.6 L998.9,156.7 L999.3,156.8 L999.6,156.9 L1000.0,157.1 L1000.4,157.2 L1000.7,157.3 L1001.1,157.5 L1001.4,157.6 L1001.7,157.7 L1002.1,157.9 L1002.4,158.0 L1002.8,158.2 L1003.1,158.3 L1003.4,158.5 L1003.7,158.6 L1004.1,158.8 L1004.4,158.9 L1004.7,159.1 L1004.9,159.2 L1005.2,159.4 L1005.5,159.6 L1005.7,159.7 L1005.9,159.9 L1006.1,160.1 L1006.4,160.2 L1006.6,160.4 L1006.8,160.6 L1006.9,160.7 L1007.1,160.9 L1007.3,161.1 L1007.4,161.3 L1007.6,161.5 L1007.7,161.7 L1007.9,161.9 L1008.0,162.1 L1008.2,162.3 L1008.3,162.4 L1008.4,162.6 L1008.5,162.8 L1008.6,163.1 L1008.7,163.3 L1008.7,163.6 L1008.8,163.9 L1008.8,164.2 L1008.8,164.6 L1008.8,165.0 L1008.8,165.4 L1008.8,165.8 L1008.7,166.3 L1008.6,166.8 L1008.6,167.3 L1008.5,167.7 L1008.4,168.2 L1008.3,168.7 L1008.2,169.2 L1008.1,169.7 L1008.0,170.2 L1007.9,170.7 L1007.7,171.2 L1007.6,171.7 L1007.4,172.2 L1007.2,172.7 L1007.1,173.2 L1006.9,173.7 L1006.7,174.1 L1006.5,174.6 L1006.4,175.0 L1006.2,175.4 L1006.0,175.8 L1005.9,176.1 L1005.7,176.4 L1005.5,176.6 L1005.4,176.9 L1005.2,177.1 L1005.0,177.4 L1004.9,177.6 L1004.7,177.9 L1004.6,178.1 L1004.4,178.4 L1004.3,178.7 L1004.2,179.0 L1004.1,179.4 L1004.0,179.7 L1003.9,180.0 L1003.8,180.4 L1003.7,180.8 L1003.6,181.1 L1003.5,181.5 L1003.4,181.9 L1003.4,182.2 L1003.3,182.6 L1003.3,182.9 L1003.3,183.2 L1003.2,183.6 L1003.2,183.9 L1003.2,184.2 L1003.2,184.5 L1003.2,184.8 L1003.2,185.1 L1003.2,185.4 L1003.2,185.7 L1003.3,186.0 L1003.4,186.4 L1003.5,186.7 L1003.6,187.0 L1003.7,187.4 L1003.9,187.7 L1004.0,188.1 L1004.2,188.5 L1004.4,188.8 L1004.6,189.2 L1004.9,189.6 L1005.1,189.9 L1005.4,190.3 L1005.8,190.6 L1006.2,191.0 L1006.6,191.4 L1007.1,191.7 L1007.6,192.1 L1008.2,192.4 L1008.8,192.8 L1009.4,193.1 L1010.1,193.4 L1010.7,193.8 L1011.4,194.1 L1012.2,194.5 L1012.9,194.8 L1013.7,195.2 L1014.5,195.6 L1015.3,195.9 L1016.2,196.3 L1017.1,196.6 L1018.0,197.0 L1019.0,197.3 L1020.0,197.7 L1021.0,198.0 L1022.0,198.4 L1023.0,198.8 L1024.0,199.1 L1025.1,199.5 L1026.2,199.9 L1027.2,200.2 L1028.3,200.6 L1029.4,201.0 L1030.4,201.4 L1031.6,201.7 L1032.7,202.1 L1033.9,202.5 L1035.1,202.9 L1036.4,203.3 L1037.8,203.8 L1039.2,204.2 L1040.7,204.7 L1042.4,205.2 L1044.2,205.7 L1046.0,206.3 L1047.9,206.8 L1049.8,207.4 L1051.7,207.9 L1053.5,208.5 L1055.3,209.0 L1057.0,209.5 L1058.6,209.9 L1060.0,210.3 L1061.2,210.6 L1062.2,210.9 L1063.0,211.1 L1063.6,211.3 L1064.2,211.4 L1064.8,211.5 L1065.4,211.7 L1066.2,211.9 L1067.1,212.1 L1068.2,212.3 L1069.6,212.7 L1071.3,213.1 L1073.4,213.6 L1075.7,214.2 L1078.3,214.8 L1081.0,215.5 L1084.0,216.3 L1087.0,217.0 L1090.1,217.8 L1093.3,218.6 L1096.5,219.4 L1099.6,220.2 L1102.7,221.0 L1105.6,221.8 L1108.5,222.6 L1111.5,223.4 L1114.5,224.2 L1117.5,225.0 L1120.6,225.8 L1123.6,226.7 L1126.6,227.5 L1129.5,228.3 L1132.3,229.1 L1135.0,229.9 L1137.5,230.6 L1139.9,231.3 L1142.1,232.0 L1144.2,232.6 L1146.2,233.2 L1148.1,233.8 L1149.9,234.4 L1151.6,235.0 L1153.2,235.5 L1154.8,236.1 L1156.2,236.6 L1157.7,237.1 L1159.1,237.7 L1160.4,238.2 L1161.7,238.7 L1162.9,239.2 L1164.1,239.7 L1165.2,240.2 L1166.2,240.7 L1167.2,241.1 L1168.1,241.6 L1169.0,242.1 L1169.8,242.5 L1170.5,243.0 L1171.2,243.4 L1171.8,243.9 L1172.3,244.3 L1172.8,244.8 L1173.2,245.2 L1173.5,245.6 L1173.8,246.0 L1174.0,246.5 L1174.1,246.9 L1174.2,247.3 L1174.3,247.7 L1174.3,248.2 L1174.3,248.7 L1174.3,249.2 L1174.2,249.7 L1174.1,250.3 L1173.9,250.9 L1173.7,251.4 L1173.4,252.0 L1173.1,252.6 L1172.7,253.3 L1172.4,253.9 L1172.0,254.5 L1171.6,255.2 L1171.1,255.8 L1170.7,256.5 L1170.2,257.2 L1169.7,257.9 L1169.1,258.6 L1168.4,259.3 L1167.8,260.1 L1167.1,260.8 L1166.4,261.5 L1165.8,262.3 L1165.2,263.0 L1164.7,263.7 L1164.2,264.4 L1163.8,265.1 L1163.5,265.8 L1163.2,266.4 L1163.0,267.0 L1162.8,267.6 L1162.7,268.2 L1162.6,268.8 L1162.5,269.4 L1162.5,270.0 L1162.5,270.6 L1162.5,271.3 L1162.5,271.9 L1162.5,272.5 L1162.5,273.1 L1162.6,273.8 L1162.6,274.4 L1162.6,275.1 L1162.7,275.8 L1162.8,276.4 L1163.0,277.1 L1163.1,277.7 L1163.4,278.4 L1163.7,279.1 L1164.1,279.7 L1164.5,280.4 L1165.0,281.0 L1165.5,281.7 L1166.1,282.3 L1166.6,282.9 L1167.3,283.5 L1168.0,284.1 L1168.8,284.7 L1169.6,285.4 L1170.6,286.1 L1171.6,286.8 L1172.8,287.6 L1174.1,288.4 L1175.5,289.3 L1177.1,290.2 L1178.9,291.2 L1180.7,292.2 L1182.7,293.3 L1184.7,294.3 L1186.7,295.4 L1188.8,296.5 L1190.9,297.7 L1192.9,298.8 L1195.0,299.9 L1196.9,301.0 L1198.8,302.1 L1200.9,303.3 L1202.9,304.5 L1205.0,305.7 L1207.1,306.9 L1209.1,308.1 L1211.1,309.3 L1213.1,310.5 L1214.9,311.6 L1216.7,312.7 L1218.3,313.8 L1219.8,314.7 L1221.1,315.6 L1222.4,316.4 L1223.5,317.1 L1224.5,317.8 L1225.5,318.5 L1226.3,319.1 L1227.1,319.7 L1227.9,320.3 L1228.6,320.9 L1229.2,321.5 L1229.9,322.1 L1230.5,322.7 L1231.1,323.3 L1231.6,323.8 L1232.0,324.3 L1232.5,324.7 L1232.8,325.1 L1233.1,325.6 L1233.4,326.0 L1233.7,326.6 L1233.9,327.1 L1234.1,327.8 L1234.4,328.5 L1234.6,329.4 L1234.8,330.4 L1235.0,331.5 L1235.1,332.7 L1235.2,333.9 L1235.3,335.3 L1235.4,336.6 L1235.5,338.0 L1235.6,339.5 L1235.7,340.9 L1235.8,342.3 L1235.9,343.7 L1236.1,345.0 L1236.3,346.3 L1236.5,347.6 L1236.7,348.8 L1236.9,350.1 L1237.1,351.3 L1237.4,352.6 L1237.6,353.9 L1237.9,355.2 L1238.2,356.5 L1238.5,357.9 L1238.8,359.3 L1239.1,360.7 L1239.4,362.2 L1239.8,363.8 L1240.2,365.4 L1240.6,367.1 L1241.0,368.8 L1241.4,370.5 L1241.8,372.2 L1242.3,373.9 L1242.7,375.5 L1243.1,377.2 L1243.6,378.8 L1244.0,380.3 L1244.4,381.8 L1244.9,383.2 L1245.4,384.7 L1245.8,386.1 L1246.3,387.4 L1246.8,388.8 L1247.3,390.1 L1247.7,391.5 L1248.1,392.7 L1248.5,394.0 L1248.9,395.3 L1249.2,396.5 L1249.5,397.7 L1249.7,398.8 L1249.9,399.9 L1250.1,400.9 L1250.3,401.9 L1250.4,403.0 L1250.5,404.0 L1250.6,405.0 L1250.7,406.1 L1250.7,407.2 L1250.8,408.4 L1250.8,409.6 L1250.8,410.9 L1250.8,412.3 L1250.7,413.7 L1250.6,415.1 L1250.5,416.6 L1250.3,418.1 L1250.2,419.6 L1250.1,421.1 L1250.0,422.6 L1249.9,424.2 L1249.8,425.7 L1249.8,427.3 L1249.8,428.9 L1249.8,430.5 L1249.8,432.1 L1249.8,433.8 L1249.8,435.5 L1249.9,437.2 L1249.9,438.9 L1250.0,440.5 L1250.2,442.2 L1250.3,443.7 L1250.5,445.3 L1250.8,446.8 L1251.1,448.2 L1251.5,449.6 L1252.0,451.0 L1252.5,452.3 L1253.0,453.6 L1253.6,454.8 L1254.1,456.1 L1254.7,457.3 L1255.3,458.6 L1255.8,459.9 L1256.3,461.2 L1256.7,462.5 L1257.1,463.8 L1257.5,465.2 L1257.9,466.5 L1258.2,467.9 L1258.6,469.2 L1258.9,470.6 L1259.2,471.9 L1259.5,473.3 L1259.8,474.7 L1260.1,476.1 L1260.3,477.5 L1260.5,479.0 L1260.7,480.5 L1260.8,481.9 L1260.9,483.4 L1261.0,484.9 L1261.1,486.5 L1261.1,488.0 L1261.1,489.6 L1261.2,491.1 L1261.2,492.7 L1261.2,494.3 L1261.3,496.0 L1261.3,497.6 L1261.3,499.2 L1261.4,500.9 L1261.4,502.5 L1261.4,504.1 L1261.4,505.8 L1261.4,507.4 L1261.4,509.2 L1261.5,510.9 L1261.5,512.8 L1261.6,514.7 L1261.7,516.7 L1261.8,518.8 L1262.0,521.0 L1262.2,523.2 L1262.4,525.5 L1262.7,527.9 L1263.0,530.3 L1263.3,532.8 L1263.6,535.3 L1263.9,538.0 L1264.2,540.7 L1264.4,543.5 L1264.6,546.4 L1264.8,549.4 L1264.9,552.5 L1265.0,555.6 L1265.1,558.8 L1264.8,600.0 L1265.3,680.0 L1266.5,680.0 L1266.5,156.0Z" fill="#0000ff" fill-opacity="0.5"/>
<path d="M1265.3,680 L1264.4,740 L1263.6,800 L1263,911.2 L1266.5,911.2 L1266.5,680Z" fill="#0000ff" fill-opacity="0.2"/>
<path d="M1156.4,111.0 L1156.4,111.0 L1157.4,111.3 L1158.4,111.6 L1159.4,111.9 L1160.4,112.2 L1161.3,112.6 L1162.2,113.0 L1163.1,113.4 L1164.0,113.9 L1165.0,114.3 L1165.8,114.8 L1166.7,115.3 L1167.5,115.9 L1168.3,116.4 L1169.0,116.9 L1169.7,117.5 L1170.3,118.0 L1170.8,118.6 L1171.2,119.2 L1171.6,119.7 L1171.8,120.3 L1172.0,120.9 L1172.1,121.5 L1172.2,122.2 L1172.3,122.8 L1172.3,123.4 L1172.4,124.0 L1172.5,124.6 L1172.6,125.2 L1172.7,125.8 L1172.8,126.4 L1173.0,126.9 L1173.1,127.4 L1173.2,127.9 L1173.3,128.4 L1173.4,129.0 L1173.5,129.5 L1173.6,130.0 L1173.8,130.6 L1174.0,131.1 L1174.3,131.8 L1174.6,132.4 L1175.0,133.1 L1175.4,133.8 L1175.9,134.6 L1176.3,135.4 L1176.9,136.2 L1177.4,137.1 L1178.0,137.9 L1178.6,138.7 L1179.2,139.6 L1179.9,140.4 L1180.5,141.1 L1181.2,141.9 L1181.9,142.6 L1182.6,143.3 L1183.3,144.0 L1184.1,144.7 L1184.8,145.4 L1185.6,146.1 L1186.4,146.8 L1187.2,147.4 L1188.0,148.1 L1188.9,148.7 L1189.7,149.4 L1190.6,150.0 L1191.5,150.6 L1192.4,151.2 L1193.4,151.8 L1194.3,152.4 L1195.3,153.0 L1196.3,153.6 L1197.3,154.2 L1198.3,154.7 L1199.2,155.3 L1200.2,155.9 L1201.1,156.4 L1202.0,157.0 L1202.8,157.6 L1203.6,158.1 L1204.3,158.6 L1205.0,159.1 L1205.6,159.6 L1206.3,160.1 L1207.0,160.6 L1207.7,161.1 L1208.5,161.7 L1209.4,162.3 L1210.3,162.9 L1211.4,163.6 L1212.6,164.3 L1213.9,165.2 L1215.3,166.0 L1216.8,166.9 L1218.3,167.8 L1219.9,168.7 L1221.5,169.7 L1223.0,170.6 L1224.6,171.6 L1226.1,172.5 L1227.5,173.4 L1228.9,174.3 L1230.2,175.2 L1231.5,176.0 L1232.8,176.9 L1234.0,177.7 L1235.2,178.6 L1236.4,179.4 L1237.6,180.3 L1238.7,181.1 L1239.7,182.0 L1240.8,182.8 L1241.7,183.7 L1242.6,184.5 L1243.4,185.3 L1244.2,186.2 L1244.9,187.1 L1245.6,187.9 L1246.3,188.8 L1246.9,189.7 L1247.4,190.5 L1247.9,191.4 L1248.3,192.2 L1248.7,193.0 L1249.1,193.8 L1249.4,194.5 L1249.6,195.2 L1249.8,195.9 L1249.9,196.5 L1250.0,197.1 L1250.0,197.6 L1250.0,198.2 L1249.9,198.7 L1249.9,199.3 L1249.7,199.9 L1249.6,200.6 L1249.5,201.3 L1249.4,202.0 L1249.3,202.8 L1249.1,203.7 L1248.9,204.6 L1248.6,205.5 L1248.4,206.5 L1248.1,207.5 L1247.8,208.4 L1247.6,209.4 L1247.3,210.4 L1247.1,211.3 L1246.9,212.2 L1246.7,213.1 L1246.6,213.9 L1246.4,214.7 L1246.3,215.5 L1246.2,216.2 L1246.1,216.9 L1246.1,217.6 L1246.0,218.3 L1245.9,219.1 L1245.9,219.8 L1245.8,220.6 L1245.8,221.4 L1245.8,222.2 L1245.8,223.1 L1245.8,224.0 L1245.7,224.9 L1245.7,225.8 L1245.7,226.8 L1245.7,227.7 L1245.8,228.7 L1245.8,229.7 L1245.9,230.7 L1246.0,231.6 L1246.1,232.6 L1246.3,233.6 L1246.5,234.6 L1246.8,235.6 L1247.0,236.6 L1247.3,237.6 L1247.7,238.6 L1248.0,239.6 L1248.4,240.6 L1248.8,241.6 L1249.2,242.6 L1249.6,243.6 L1250.0,244.5 L1250.4,245.5 L1250.8,246.4 L1251.3,247.4 L1251.8,248.3 L1252.3,249.2 L1252.8,250.1 L1253.3,251.0 L1253.8,251.9 L1254.3,252.8 L1254.8,253.7 L1255.3,254.6 L1255.7,255.6 L1256.1,256.5 L1256.5,257.4 L1256.8,258.3 L1257.1,259.3 L1257.5,260.2 L1257.7,261.1 L1258.0,262.0 L1258.3,262.9 L1258.5,263.9 L1258.8,264.9 L1259.0,265.9 L1259.3,266.9 L1259.5,268.0 L1259.7,269.1 L1259.9,270.3 L1260.1,271.5 L1260.3,272.7 L1260.5,273.9 L1260.7,275.2 L1260.8,276.4 L1261.0,277.7 L1261.1,279.0 L1261.3,280.3 L1261.4,281.7 L1261.6,283.0 L1261.8,284.3 L1261.9,285.6 L1262.1,286.8 L1262.2,288.1 L1262.3,289.3 L1262.5,290.6 L1262.6,291.9 L1262.7,293.3 L1262.9,294.8 L1263.0,296.4 L1263.2,298.1 L1263.3,300.0 L1263.4,301.9 L1263.6,303.7 L1263.8,305.5 L1263.9,307.4 L1264.1,309.3 L1264.2,311.4 L1264.4,313.7 L1264.5,316.2 L1264.7,318.9 L1264.8,322.1 L1264.9,325.6 L1265.0,329.5 L1265.1,334.0 L1265.2,339.1 L1265.2,344.7 L1265.3,350.7 L1265.3,357.0 L1265.4,363.5 L1265.4,370.0 L1265.5,376.5 L1265.5,382.9 L1265.5,389.0 L1265.6,394.7 L1265.6,400.0 L1265.6,404.9 L1265.7,409.5 L1265.7,414.0 L1265.8,418.2 L1265.8,422.3 L1265.8,426.4 L1265.9,430.3 L1265.9,434.2 L1265.9,438.1 L1265.9,442.0 L1266.0,445.9 L1266.0,450.0 L1266.0,454.3 L1266.0,458.8 L1266.1,463.4 L1266.1,468.2 L1266.1,472.9 L1266.1,477.5 L1266.1,482.0 L1266.2,486.2 L1266.2,490.1 L1266.2,493.5 L1266.2,496.4 L1266.2,498.8 L1266.5,498.8 L1266.5,111.0Z" fill="#00ff00" fill-opacity="0.5"/>
<path d="M1245.8,77.6 L1245.8,77.7 L1246.5,77.9 L1247.3,78.2 L1248.1,78.5 L1248.8,78.8 L1249.5,79.1 L1250.2,79.5 L1250.9,79.8 L1251.5,80.2 L1252.1,80.5 L1252.7,80.9 L1253.3,81.3 L1253.8,81.7 L1254.4,82.0 L1254.9,82.4 L1255.4,82.8 L1255.9,83.1 L1256.3,83.5 L1256.7,83.8 L1257.1,84.1 L1257.5,84.5 L1257.9,84.9 L1258.2,85.3 L1258.6,85.7 L1258.9,86.1 L1259.3,86.6 L1259.6,87.1 L1259.9,87.7 L1260.2,88.3 L1260.6,88.9 L1260.9,89.5 L1261.2,90.2 L1261.4,90.9 L1261.7,91.6 L1262.0,92.3 L1262.2,93.1 L1262.5,93.8 L1262.7,94.6 L1262.9,95.3 L1263.1,96.0 L1263.3,96.8 L1263.5,97.5 L1263.6,98.3 L1263.8,99.1 L1264.0,99.9 L1264.1,100.7 L1264.2,101.5 L1264.4,102.3 L1264.5,103.1 L1264.6,103.9 L1264.7,104.7 L1264.8,105.5 L1264.9,106.3 L1265.0,107.0 L1265.0,107.8 L1265.1,108.5 L1265.2,109.3 L1265.2,110.1 L1265.3,110.9 L1265.3,111.8 L1265.4,112.8 L1265.4,113.9 L1265.5,115.0 L1265.6,116.2 L1265.6,117.5 L1265.7,118.8 L1265.8,120.2 L1265.8,121.7 L1265.9,123.2 L1265.9,124.7 L1266.0,126.4 L1266.1,128.0 L1266.1,129.8 L1266.2,131.6 L1266.2,133.4 L1266.2,135.2 L1266.3,137.0 L1266.3,138.7 L1266.3,140.4 L1266.4,142.2 L1266.4,144.1 L1266.4,146.1 L1266.4,148.4 L1266.4,150.8 L1266.5,153.5 L1266.5,156.6 L1266.5,160.0 L1266.5,163.8 L1266.5,168.0 L1266.5,172.5 L1266.5,177.3 L1266.6,182.3 L1266.6,187.5 L1266.6,192.8 L1266.6,198.3 L1266.5,198.3 L1266.5,77.6Z" fill="#ff0000" fill-opacity="0.5"/>
<g font-family="'Liberation Sans', Arial, sans-serif" font-size="35.4" fill="#262626" stroke="#262626" stroke-width="0.5">
<text transform="translate(237.3,961.8) scale(1,1.035)" text-anchor="middle">0.1</text>
<text transform="translate(351.5,961.8) scale(1,1.035)" text-anchor="middle">0.2</text>
<text transform="translate(465.8,961.8) scale(1,1.035)" text-anchor="middle">0.3</text>
<text transform="translate(580.0,961.8) scale(1,1.035)" text-anchor="middle">0.4</text>
<text transform="translate(694.2,961.8) scale(1,1.035)" text-anchor="middle">0.5</text>
<text transform="translate(808.4,961.8) scale(1,1.035)" text-anchor="middle">0.6</text>
<text transform="translate(922.6,961.8) scale(1,1.035)" text-anchor="middle">0.7</text>
<text transform="translate(1036.9,961.8) scale(1,1.035)" text-anchor="middle">0.8</text>
<text transform="translate(1151.1,961.8) scale(1,1.035)" text-anchor="middle">0.9</text>
<text transform="translate(1265.3,961.8) scale(1,1.035)" text-anchor="middle">1</text>
<text transform="translate(109.5,25.1) scale(1,1.035)" text-anchor="end">0</text>
<text transform="translate(109.5,108.5) scale(1,1.035)" text-anchor="end">-0.1</text>
<text transform="translate(109.5,191.9) scale(1,1.035)" text-anchor="end">-0.2</text>
<text transform="translate(109.5,275.3) scale(1,1.035)" text-anchor="end">-0.3</text>
<text transform="translate(109.5,358.7) scale(1,1.035)" text-anchor="end">-0.4</text>
<text transform="translate(109.5,442.2) scale(1,1.035)" text-anchor="end">-0.5</text>
<text transform="translate(109.5,525.6) scale(1,1.035)" text-anchor="end">-0.6</text>
<text transform="translate(109.5,609.0) scale(1,1.035)" text-anchor="end">-0.7</text>
<text transform="translate(109.5,692.4) scale(1,1.035)" text-anchor="end">-0.8</text>
<text transform="translate(109.5,775.8) scale(1,1.035)" text-anchor="end">-0.9</text>
<text transform="translate(109.5,859.2) scale(1,1.035)" text-anchor="end">-1</text>
</g>
<g font-family="'Liberation Sans', Arial, sans-serif" font-size="38.9" fill="#262626" stroke="#262626" stroke-width="0.5" text-anchor="middle">
<text x="696.5" y="1012.1">Volume (%)</text>
<text transform="translate(28.4,460.6) rotate(-90)" font-size="38.4">Height (mm)</text>
</g>
<rect x="151.5" y="614.8" width="371.2" height="269.2" fill="#fff" stroke="#262626" stroke-width="1.6"/>
<g fill="none" stroke-width="7.5">
<line x1="162.1" x2="267.6" y1="641" y2="641" stroke="#0072bd"/>
<line x1="162.1" x2="267.6" y1="684.4" y2="684.4" stroke="#00ff00" stroke-dasharray="6.8 5.8"/>
<line x1="162.1" x2="267.6" y1="727.8" y2="727.8" stroke="#ff0000" stroke-dasharray="25.2 25.2"/>
</g>
<rect x="162.1" y="755.1" width="105.5" height="31.8" fill="#8080ff"/>
<rect x="162.1" y="798.3" width="105.5" height="31.8" fill="#80ff80"/>
<rect x="162.1" y="841.5" width="105.5" height="31.8" fill="#ff8080"/>
<g font-family="'Liberation Sans', Arial, sans-serif" font-size="31.5" fill="#000" stroke="#000" stroke-width="0.55">
<text x="275.3" y="653.5">Set 3 MR curve</text>
<text x="275.3" y="696.9">Set 2 MR curve</text>
<text x="275.3" y="740.3">Set 1 MR curve</text>
<text x="275.3" y="783.5">Set 3 Valley void</text>
<text x="275.3" y="826.7">Set 2 Valley void</text>
<text x="275.3" y="869.9">Set 1 Valley void</text>
</g>
</svg>
</body></html>
